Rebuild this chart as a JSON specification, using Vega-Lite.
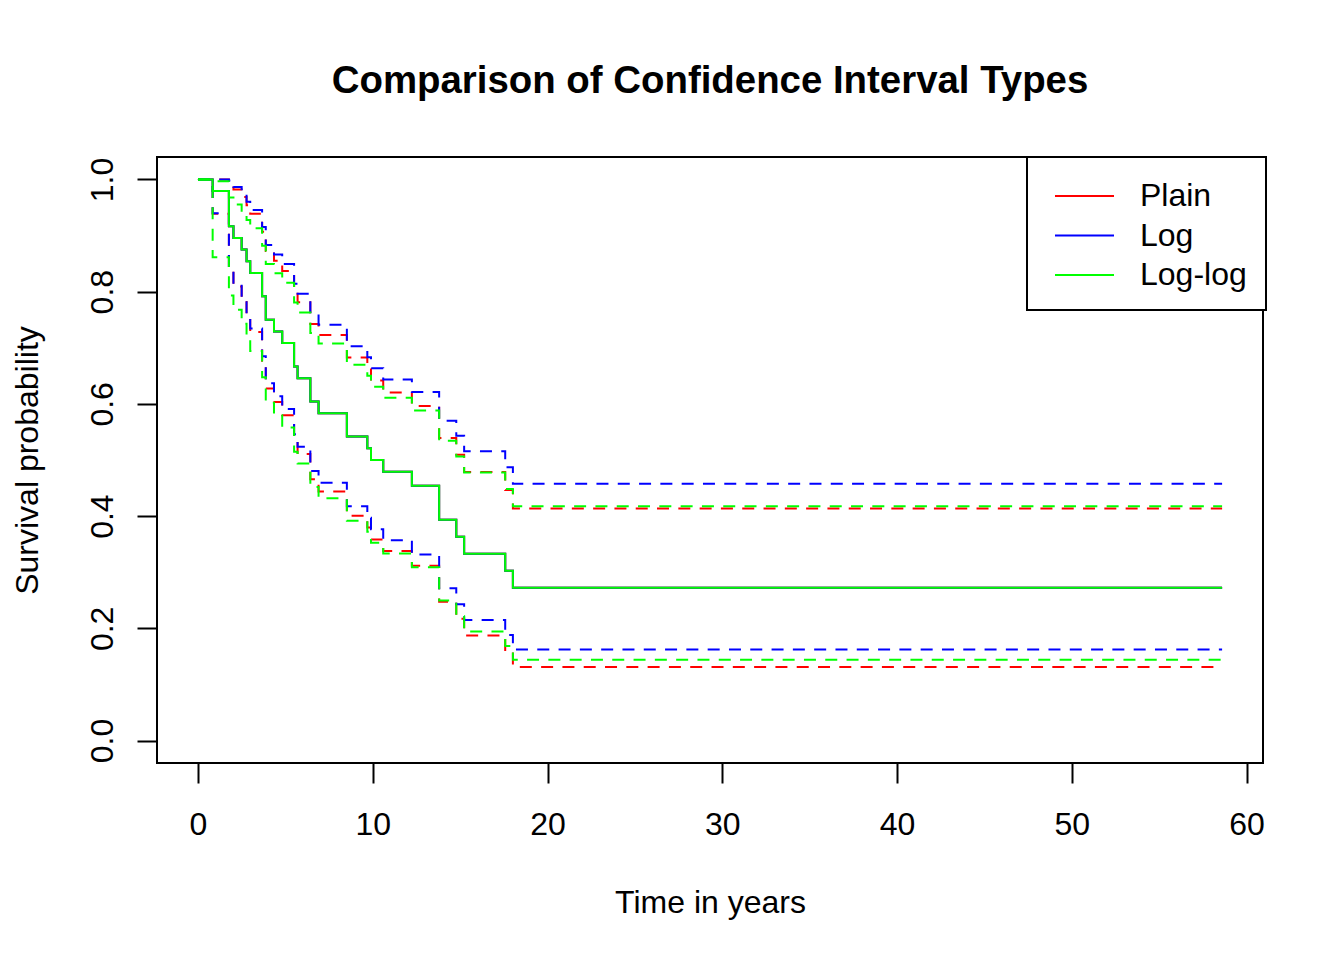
{
  "$schema": "https://vega.github.io/schema/vega-lite/v6.json",
  "autosize": "none",
  "width": 1106,
  "height": 606,
  "padding": {"left": 157, "top": 157, "right": 81, "bottom": 197},
  "background": "white",
  "title": {"text": "Comparison of Confidence Interval Types", "fontSize": 38.4, "fontWeight": "bold", "font": "Liberation Sans", "color": "black", "anchor": "middle", "frame": "group", "baseline": "alphabetic", "offset": 25},
  "data": {"values": [
    {"type":"Plain","t":0,"s":1,"lo":1,"hi":1},
    {"type":"Plain","t":0.84,"s":0.9792,"lo":0.9388,"hi":1},
    {"type":"Plain","t":1.77,"s":0.9167,"lo":0.8385,"hi":0.9949},
    {"type":"Plain","t":2.03,"s":0.8958,"lo":0.8094,"hi":0.9822},
    {"type":"Plain","t":2.50,"s":0.875,"lo":0.7814,"hi":0.9686},
    {"type":"Plain","t":2.78,"s":0.8542,"lo":0.7543,"hi":0.9540},
    {"type":"Plain","t":2.99,"s":0.8333,"lo":0.7279,"hi":0.9388},
    {"type":"Plain","t":3.67,"s":0.7917,"lo":0.6768,"hi":0.9066},
    {"type":"Plain","t":3.88,"s":0.75,"lo":0.6275,"hi":0.8725},
    {"type":"Plain","t":4.35,"s":0.7292,"lo":0.6035,"hi":0.8549},
    {"type":"Plain","t":4.82,"s":0.7083,"lo":0.5798,"hi":0.8369},
    {"type":"Plain","t":5.50,"s":0.6667,"lo":0.5333,"hi":0.8000},
    {"type":"Plain","t":5.70,"s":0.6458,"lo":0.5105,"hi":0.7811},
    {"type":"Plain","t":6.43,"s":0.6042,"lo":0.4658,"hi":0.7425},
    {"type":"Plain","t":6.90,"s":0.5833,"lo":0.4439,"hi":0.7228},
    {"type":"Plain","t":8.52,"s":0.5417,"lo":0.4007,"hi":0.6826},
    {"type":"Plain","t":9.69,"s":0.5208,"lo":0.3795,"hi":0.6622},
    {"type":"Plain","t":9.90,"s":0.5,"lo":0.3585,"hi":0.6415},
    {"type":"Plain","t":10.60,"s":0.4792,"lo":0.3378,"hi":0.6205},
    {"type":"Plain","t":12.24,"s":0.4539,"lo":0.3117,"hi":0.5962},
    {"type":"Plain","t":13.80,"s":0.3934,"lo":0.2475,"hi":0.5394},
    {"type":"Plain","t":14.78,"s":0.3632,"lo":0.2169,"hi":0.5094},
    {"type":"Plain","t":15.23,"s":0.3329,"lo":0.1873,"hi":0.4785},
    {"type":"Plain","t":17.58,"s":0.3026,"lo":0.1587,"hi":0.4466},
    {"type":"Plain","t":18.02,"s":0.2724,"lo":0.1311,"hi":0.4136},
    {"type":"Plain","t":58.6,"s":0.2724,"lo":0.1311,"hi":0.4136},
    {"type":"Log","t":0,"s":1,"lo":1,"hi":1},
    {"type":"Log","t":0.84,"s":0.9792,"lo":0.9396,"hi":1},
    {"type":"Log","t":1.77,"s":0.9167,"lo":0.8417,"hi":0.9983},
    {"type":"Log","t":2.03,"s":0.8958,"lo":0.8135,"hi":0.9866},
    {"type":"Log","t":2.50,"s":0.875,"lo":0.7863,"hi":0.9738},
    {"type":"Log","t":2.78,"s":0.8542,"lo":0.7599,"hi":0.9601},
    {"type":"Log","t":2.99,"s":0.8333,"lo":0.7343,"hi":0.9457},
    {"type":"Log","t":3.67,"s":0.7917,"lo":0.6847,"hi":0.9153},
    {"type":"Log","t":3.88,"s":0.75,"lo":0.6370,"hi":0.8831},
    {"type":"Log","t":4.35,"s":0.7292,"lo":0.6137,"hi":0.8664},
    {"type":"Log","t":4.82,"s":0.7083,"lo":0.5907,"hi":0.8493},
    {"type":"Log","t":5.50,"s":0.6667,"lo":0.5458,"hi":0.8143},
    {"type":"Log","t":5.70,"s":0.6458,"lo":0.5238,"hi":0.7964},
    {"type":"Log","t":6.43,"s":0.6042,"lo":0.4805,"hi":0.7596},
    {"type":"Log","t":6.90,"s":0.5833,"lo":0.4593,"hi":0.7409},
    {"type":"Log","t":8.52,"s":0.5417,"lo":0.4176,"hi":0.7027},
    {"type":"Log","t":9.69,"s":0.5208,"lo":0.3971,"hi":0.6832},
    {"type":"Log","t":9.90,"s":0.5,"lo":0.3768,"hi":0.6635},
    {"type":"Log","t":10.60,"s":0.4792,"lo":0.3568,"hi":0.6436},
    {"type":"Log","t":12.24,"s":0.4539,"lo":0.3318,"hi":0.6210},
    {"type":"Log","t":13.80,"s":0.3934,"lo":0.2715,"hi":0.5701},
    {"type":"Log","t":14.78,"s":0.3632,"lo":0.2428,"hi":0.5433},
    {"type":"Log","t":15.23,"s":0.3329,"lo":0.2149,"hi":0.5156},
    {"type":"Log","t":17.58,"s":0.3026,"lo":0.1881,"hi":0.4870},
    {"type":"Log","t":18.02,"s":0.2724,"lo":0.1622,"hi":0.4575},
    {"type":"Log","t":58.6,"s":0.2724,"lo":0.1622,"hi":0.4575},
    {"type":"Log-log","t":0,"s":1,"lo":1,"hi":1},
    {"type":"Log-log","t":0.84,"s":0.9792,"lo":0.8612,"hi":0.9970},
    {"type":"Log-log","t":1.77,"s":0.9167,"lo":0.7930,"hi":0.9679},
    {"type":"Log-log","t":2.03,"s":0.8958,"lo":0.7677,"hi":0.9553},
    {"type":"Log-log","t":2.50,"s":0.875,"lo":0.7428,"hi":0.9418},
    {"type":"Log-log","t":2.78,"s":0.8542,"lo":0.7183,"hi":0.9277},
    {"type":"Log-log","t":2.99,"s":0.8333,"lo":0.6943,"hi":0.9129},
    {"type":"Log-log","t":3.67,"s":0.7917,"lo":0.6474,"hi":0.8820},
    {"type":"Log-log","t":3.88,"s":0.75,"lo":0.6020,"hi":0.8495},
    {"type":"Log-log","t":4.35,"s":0.7292,"lo":0.5798,"hi":0.8328},
    {"type":"Log-log","t":4.82,"s":0.7083,"lo":0.5578,"hi":0.8157},
    {"type":"Log-log","t":5.50,"s":0.6667,"lo":0.5148,"hi":0.7807},
    {"type":"Log-log","t":5.70,"s":0.6458,"lo":0.4937,"hi":0.7628},
    {"type":"Log-log","t":6.43,"s":0.6042,"lo":0.4521,"hi":0.7262},
    {"type":"Log-log","t":6.90,"s":0.5833,"lo":0.4318,"hi":0.7076},
    {"type":"Log-log","t":8.52,"s":0.5417,"lo":0.3917,"hi":0.6697},
    {"type":"Log-log","t":9.69,"s":0.5208,"lo":0.3720,"hi":0.6503},
    {"type":"Log-log","t":9.90,"s":0.5,"lo":0.3526,"hi":0.6307},
    {"type":"Log-log","t":10.60,"s":0.4792,"lo":0.3334,"hi":0.6110},
    {"type":"Log-log","t":12.24,"s":0.4539,"lo":0.3090,"hi":0.5880},
    {"type":"Log-log","t":13.80,"s":0.3934,"lo":0.2495,"hi":0.5343},
    {"type":"Log-log","t":14.78,"s":0.3632,"lo":0.2214,"hi":0.5063},
    {"type":"Log-log","t":15.23,"s":0.3329,"lo":0.1945,"hi":0.4776},
    {"type":"Log-log","t":17.58,"s":0.3026,"lo":0.1687,"hi":0.4481},
    {"type":"Log-log","t":18.02,"s":0.2724,"lo":0.1440,"hi":0.4177},
    {"type":"Log-log","t":58.6,"s":0.2724,"lo":0.1440,"hi":0.4177}
  ]},
  "transform": [{"fold": ["s", "lo", "hi"], "as": ["bound", "v"]}],
  "encoding": {
    "x": {"field": "t", "type": "quantitative",
      "scale": {"domain": [-2.344, 60.94], "nice": false, "zero": false},
      "axis": {"values": [0, 10, 20, 30, 40, 50, 60], "format": "d", "title": "Time in years",
        "titleX": 553, "titleY": 149, "titleBaseline": "alphabetic", "titleAlign": "center",
        "labelBaseline": "alphabetic", "labelPadding": 51}},
    "y": {"field": "v", "type": "quantitative",
      "scale": {"domain": [-0.04, 1.04], "nice": false, "zero": false},
      "axis": {"values": [0, 0.2, 0.4, 0.6, 0.8, 1.0], "format": ".1f", "title": "Survival probability",
        "titleX": -120, "titleY": 303, "titleAngle": 270, "titleBaseline": "alphabetic", "titleAlign": "center",
        "labelAngle": 270, "labelAlign": "center", "labelBaseline": "alphabetic", "labelPadding": 25}},
    "color": {"field": "type", "type": "nominal",
      "scale": {"domain": ["Plain", "Log", "Log-log"], "range": ["#FF0000", "#0000FF", "#00FF00"]},
      "legend": {"title": null}},
    "strokeDash": {"field": "bound", "type": "nominal",
      "scale": {"domain": ["s", "lo", "hi"], "range": [[1, 0], [12, 9.3], [12, 9.3]]},
      "legend": null},
    "detail": {"field": "bound", "type": "nominal"}
  },
  "layer": [
    {"transform": [{"filter": "datum.type === 'Plain'"}], "mark": {"type": "line", "interpolate": "step-after", "strokeWidth": 2}},
    {"transform": [{"filter": "datum.type === 'Log'"}], "mark": {"type": "line", "interpolate": "step-after", "strokeWidth": 2}},
    {"transform": [{"filter": "datum.type === 'Log-log'"}], "mark": {"type": "line", "interpolate": "step-after", "strokeWidth": 2}}
  ],
  "config": {
    "font": "Liberation Sans",
    "view": {"stroke": "black", "strokeWidth": 2},
    "axis": {"domain": false, "grid": false, "ticks": true, "tickColor": "black", "tickWidth": 2, "tickSize": 20,
      "labelFontSize": 32, "labelColor": "black", "labelFont": "Liberation Sans",
      "titleFontSize": 32, "titleFontWeight": "normal", "titleColor": "black", "titleFont": "Liberation Sans", "labelFlush": false, "labelOverlap": false},
    "legend": {"orient": "none", "legendX": 870, "legendY": 0, "strokeColor": "black", "strokeWidth": 2, "fillColor": "white",
      "padding": 19, "symbolType": "M-1.553,0H1.553", "symbolSize": 1444, "symbolStrokeWidth": 2,
      "labelFontSize": 32, "labelFont": "Liberation Sans", "labelColor": "black", "symbolOffset": 18.5, "labelOffset": 35.5,
      "rowPadding": 3.5, "labelLimit": 400}
  }
}
